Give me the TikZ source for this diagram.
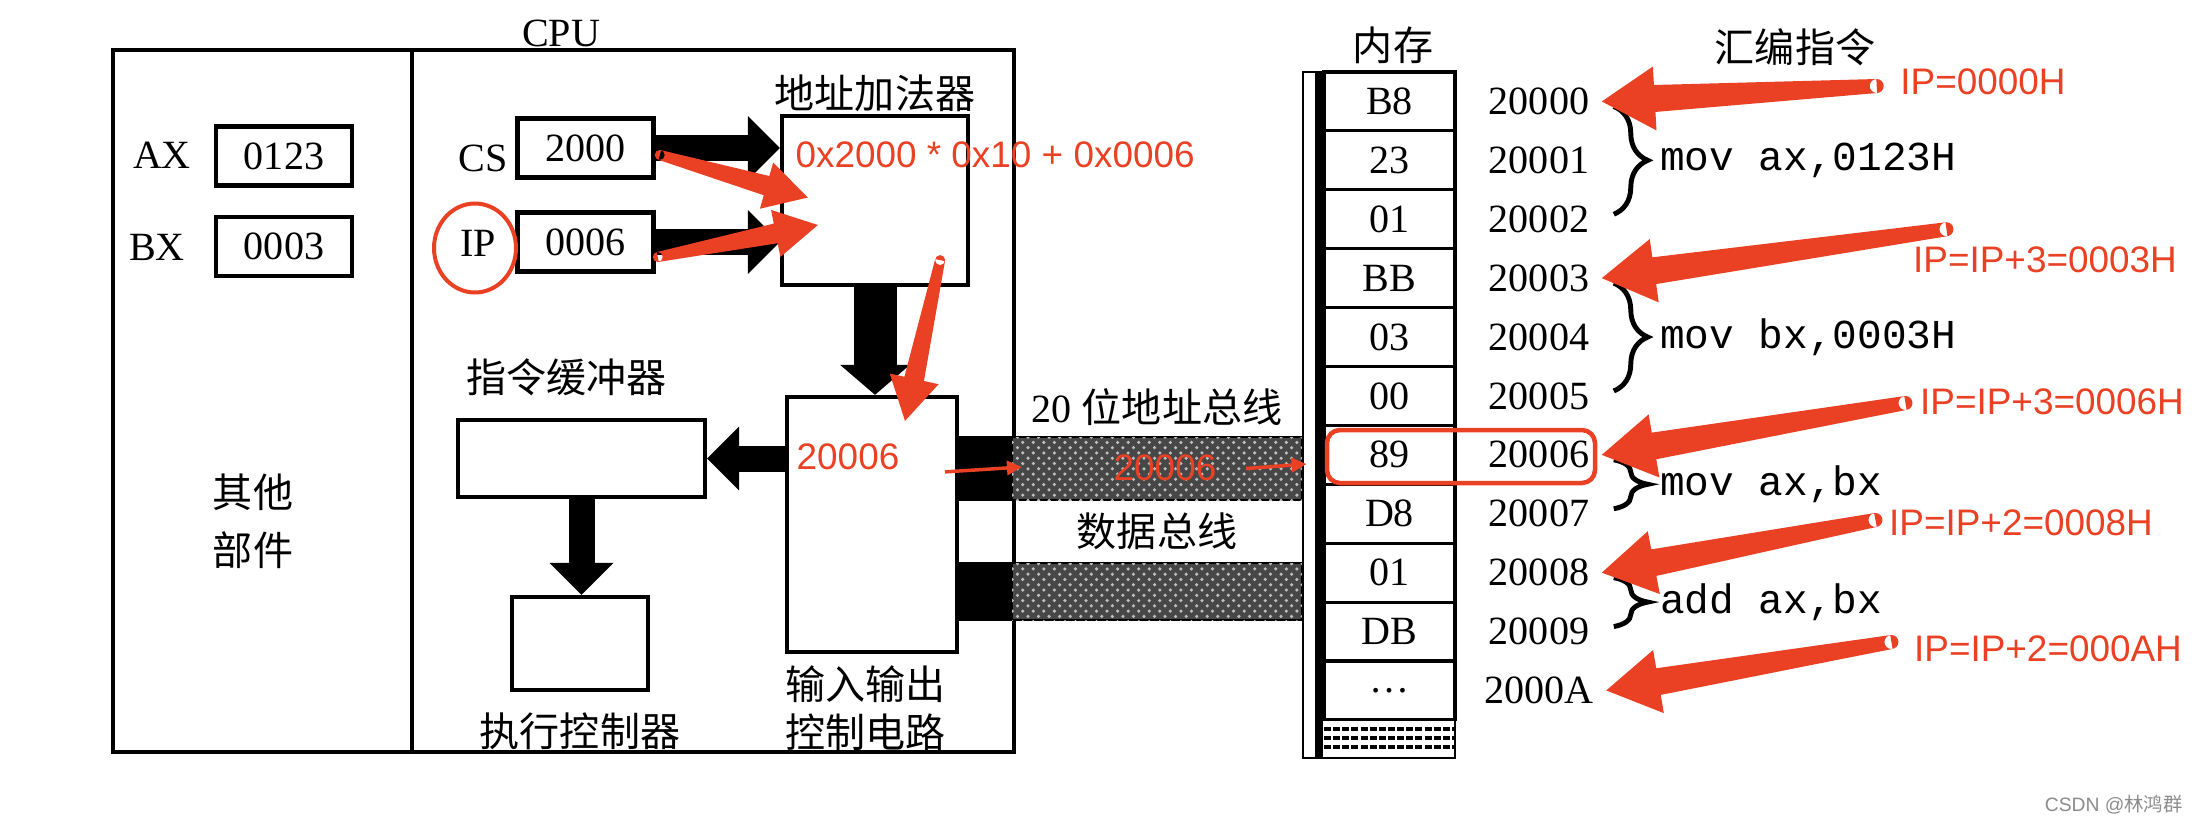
\documentclass[tikz,border=0pt]{standalone}
\usepackage{fontspec}
\setmainfont{Liberation Serif}
\newfontfamily\hanzi{Noto Sans CJK SC}
\newfontfamily\markfont{Liberation Sans}
\newfontfamily\asmmono{Liberation Mono}
\usepackage{tikz}
\usetikzlibrary{arrows.meta,positioning,calc,patterns,decorations.pathreplacing}
\definecolor{MarkRed}{RGB}{234,65,37}
\newcommand{\bookfont}{\fontsize{11.4}{13.7}\selectfont}
\newcommand{\fatarrow}[6]{%
  \coordinate (fa-s) at (#1);
  \coordinate (fa-t) at (#2);
  \coordinate (fa-b) at ($(fa-t)!#6!(fa-s)$);
  \fill[MarkRed] (fa-s) circle[radius=#3]
    ($(fa-s)!#3!90:(fa-t)$) -- ($(fa-b)!#4!90:(fa-t)$) -- ($(fa-b)!#5!90:(fa-t)$)
    -- (fa-t) -- ($(fa-b)!#5!-90:(fa-t)$) -- ($(fa-b)!#4!-90:(fa-t)$)
    -- ($(fa-s)!#3!-90:(fa-t)$) -- cycle;}

\begin{document}
\begin{tikzpicture}[x=0.1mm,y=-0.1mm,
  lbl/.style={font=\bookfont,inner sep=0.5mm},
  zh/.style={font=\hanzi\bookfont,inner sep=0.5mm},
  reg/.style={draw,line width=1.3pt,minimum width=13.6mm,minimum height=5.9mm,inner sep=0pt,font=\bookfont},
  unit/.style={draw,line width=1.2pt,inner sep=0pt},
  memcell/.style={draw,line width=0.9pt,minimum width=13.1mm,minimum height=5.89mm,inner sep=0pt,font=\bookfont},
  addr/.style={font=\bookfont,inner xsep=1.2mm,inner ysep=0pt},
  asm/.style={font=\asmmono\fontsize{11.7}{14}\selectfont,inner sep=0pt},
  redtxt/.style={text=MarkRed,font=\markfont\fontsize{10.5}{12.6}\selectfont,inner sep=0pt},
  blockarrow/.style={line width=2.6mm,-{Triangle[width=6.2mm,length=3.2mm]}},
  thinred/.style={MarkRed,line width=0.35mm,-{Triangle[length=1.5mm,width=1.4mm]}},
  bus/.style={draw,line width=0.6pt,inner sep=0pt,fill=black!72,postaction={pattern=crosshatch dots,pattern color=white!75!black}},
  brace/.style={decorate,decoration={brace,amplitude=3.4mm},line width=1.4pt}]
  \path[use as bounding box,fill=white] (0,0) rectangle (2208,822);

  % CPU
  \draw[line width=1.3pt] (113,50) rectangle (1014,752);
  \draw[line width=1pt] (412,50) -- (412,752);
  \node[lbl,anchor=base] (cpu) at (561,46) {CPU};
  \node[zh,align=center,font=\hanzi\fontsize{11.4}{16.5}\selectfont] (other) at (253,521) {其他\\部件};

  \node[reg] (ax) at (284,156) {0123};
  \node[reg] (bx) at (284,246.5) {0003};
  \node[lbl] (axl) at (162,155) {AX};
  \node[lbl] (bxl) at (157,247) {BX};
  \node[reg] (cs) at (585.5,148) {2000};
  \node[reg] (ip) at (585.5,242) {0006};
  \node[lbl] (csl) at (483,158) {CS};
  \node[lbl] (ipl) at (478,243) {IP};

  \node[unit,minimum width=18.6mm,minimum height=16.9mm] (adder) at (875,200.5) {};
  \node[zh,above=-0.4mm of adder] (adderl) {地址加法器};
  \node[unit,minimum width=24.7mm,minimum height=7.7mm] (buf) at (581.5,458.5) {};
  \node[zh,anchor=south west] (bufl) at ($(buf.north west)+(0.5mm,1.6mm)$) {指令缓冲器};
  \node[unit,minimum width=13.6mm,minimum height=9.3mm] (exec) at (580,643.5) {};
  \node[zh,below=1.5mm of exec] (execl) {执行控制器};
  \node[unit,minimum width=17mm,minimum height=25.5mm] (io) at (872,524.5) {};
  \node[zh,align=left,anchor=north west] (iol) at ($(io.south west)+(-0.5mm,-0.6mm)$) {输入输出\\控制电路};

  \draw[blockarrow] (cs.east) -- (cs.east -| adder.west);
  \draw[blockarrow] (ip.east) -- (ip.east -| adder.west);
  \draw[blockarrow,line width=4.3mm,-{Triangle[width=6.8mm,length=3mm]}] (adder.south) -- (adder.south |- io.north);
  \draw[blockarrow] (buf.east -| io.west) -- (buf.east);
  \draw[blockarrow] (buf.south) -- (buf.south |- exec.north);

  % buses
  \node[bus,minimum width=29mm,minimum height=6.3mm] (abus) at (1157,468.5) {};
  \node[bus,minimum width=29mm,minimum height=5.7mm] (dbus) at (1157,591.5) {};
  \fill (io.east |- abus.north) rectangle (abus.south west);
  \fill (io.east |- dbus.north) rectangle (dbus.south west);
  \node[lbl,above=0.5mm of abus] (abusl) {20 {\hanzi 位地址总线}};
  \node[zh] (dbusl) at ($(abus.south)!0.5!(dbus.north)$) {数据总线};

  % memory
  \node[draw,line width=0.8pt,minimum width=15.2mm,minimum height=68.6mm,inner sep=0pt] (memframe) at (1379,415) {};
  \fill ($(memframe.north west)+(1.3mm,0)$) rectangle ($(memframe.south west)+(2.1mm,0)$);
  \foreach \i/\v/\a in {0/B8/20000,1/23/20001,2/01/20002,3/BB/20003,4/03/20004,5/00/20005,
                        6/89/20006,7/D8/20007,8/01/20008,9/DB/20009,10/{\dots}/2000A}{
    \node[memcell] (m\i) at (1389.5,{101.45+58.9*\i}) {\v};
    \node[addr] (a\i) at (1539,{101.45+58.9*\i}) {\a};}
  \foreach \yy in {729,738,747}
    \draw[line width=1.2pt,dash pattern=on 2pt off 0.6pt] (1324,\yy) -- (1455,\yy);
  \node[zh] (meml) at (1393,45) {内存};
  \node[zh] (asml) at (1795,47) {汇编指令};
  \foreach \p/\q/\txt in {0/2/{mov ax,0123H},3/5/{mov bx,0003H},6/7/{mov ax,bx},8/9/{add ax,bx}}
    \draw[brace] ($(a\p.east)+(1.2mm,-0.5mm)$) -- ($(a\q.east)+(1.2mm,0.5mm)$)
      node[asm,midway,right=4.4mm] {\txt};

  % red marks
  \draw[MarkRed,line width=0.4mm] ($(ipl)+(-0.3mm,-0.5mm)$) ellipse[x radius=4.1mm,y radius=4.45mm];
  \draw[MarkRed,line width=0.45mm,rounded corners=1.3mm] (1327,430) rectangle (1595,483);
  \node[redtxt,anchor=west] (sumtxt) at ($(adder.north west)+(1.5mm,-4.1mm)$) {0x2000 * 0x10 + 0x0006};
  \node[redtxt] (ioaddr) at ($(io.north)+(-2.4mm,-6.2mm)$) {20006};
  \node[redtxt] (busaddr) at ($(abus.center)+(0.8mm,0.1mm)$) {20006};
  \coordinate (cstail) at ($(cs.east)+(0.4mm,-0.7mm)$);
  \coordinate (iptail) at ($(ip.east)+(0.2mm,-1.5mm)$);
  \coordinate (csin) at ($(adder.west)+(2.8mm,0.3mm)$);
  \coordinate (ipin) at ($(adder.west)+(3.8mm,-2.45mm)$);
  \coordinate (sumtail) at ($(adder.south east)+(-3mm,2.7mm)$);
  \coordinate (ioin) at ($(io.north)+(3.3mm,-2.6mm)$);
  \fatarrow{cstail}{csin}{0.5mm}{1mm}{2.4mm}{4.3mm}
  \fatarrow{iptail}{ipin}{0.5mm}{1mm}{2.4mm}{4.3mm}
  \fatarrow{sumtail}{ioin}{0.5mm}{1mm}{2.5mm}{4.3mm}
  \coordinate (iotail) at ($(ioaddr.east)+(4.5mm,-1.5mm)$);
  \coordinate (abusin) at ($(abus.west)+(1.1mm,0.15mm)$);
  \coordinate (bustail) at ($(busaddr.east)+(2.9mm,-0.1mm)$);
  \coordinate (memin) at ($(memframe.west |- abus.center)+(0.5mm,0.45mm)$);
  \draw[thinred] (iotail) -- (abusin);
  \draw[thinred] (bustail) -- (memin);

  \node[redtxt] (ip0) at (1983,82) {IP=0000H};
  \node[redtxt] (ip1) at (2045,260) {IP=IP+3=0003H};
  \node[redtxt] (ip2) at (2052,402) {IP=IP+3=0006H};
  \node[redtxt] (ip3) at (2021,523) {IP=IP+2=0008H};
  \node[redtxt] (ip4) at (2048,649) {IP=IP+2=000AH};
  \coordinate (t0) at ($(ip0.west)+(-2.3mm,-0.4mm)$);
  \coordinate (t1) at ($(ip1.north west)+(3.4mm,1.7mm)$);
  \coordinate (t2) at ($(ip2.west)+(-1.4mm,-0.1mm)$);
  \coordinate (t3) at ($(ip3.west)+(-1.3mm,0.3mm)$);
  \coordinate (t4) at ($(ip4.west)+(-2.2mm,0.7mm)$);
  \foreach \k/\r in {0/0,1/3,2/6,3/8,4/10}{
    \fatarrow{t\k}{a\r.east}{0.7mm}{1.35mm}{3.2mm}{5.3mm}}

  \node[text=black!45,font=\markfont\fontsize{5.5}{6}\selectfont,anchor=east] (wm) at (2195,805) {CSDN @{\hanzi 林鸿群}};
\end{tikzpicture}
\end{document}
